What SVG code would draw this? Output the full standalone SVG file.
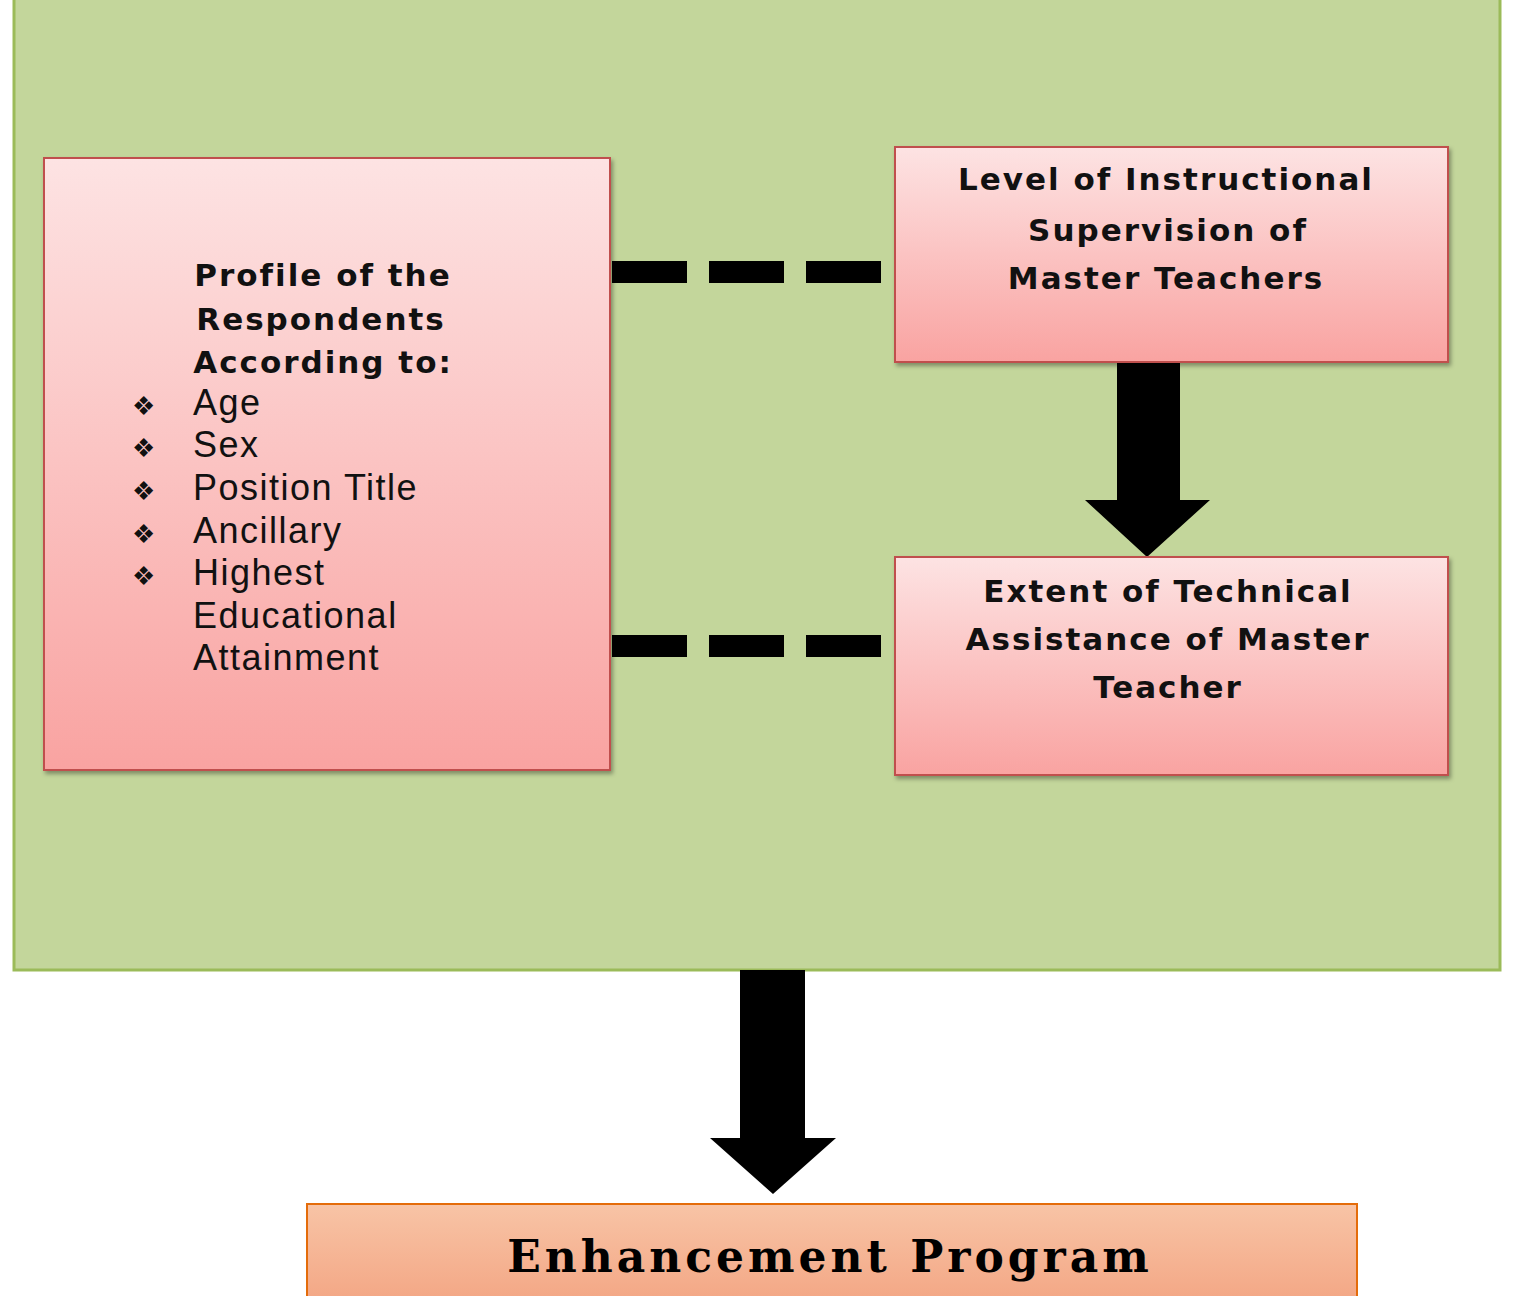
<svg xmlns="http://www.w3.org/2000/svg" width="1527" height="1296" viewBox="0 0 1527 1296">
<defs>
<linearGradient id="pink" x1="0" y1="0" x2="0" y2="1"><stop offset="0" stop-color="#fde3e3"/><stop offset="1" stop-color="#f9a3a1"/></linearGradient>
<linearGradient id="orange" x1="0" y1="0" x2="0" y2="1"><stop offset="0" stop-color="#f8c4a6"/><stop offset="1" stop-color="#f3a684"/></linearGradient>
<filter id="sh" x="-5%" y="-5%" width="110%" height="110%"><feDropShadow dx="2" dy="3" stdDeviation="2" flood-color="#000" flood-opacity="0.35"/></filter>
</defs>
<style>
.box{fill:url(#pink);stroke:#c0504d;stroke-width:2;filter:url(#sh)}
.h{font-family:"DejaVu Sans",sans-serif;font-weight:bold;font-size:31px;fill:#111;text-anchor:middle;letter-spacing:2px}
.li{font-family:"Liberation Sans",sans-serif;font-size:36px;fill:#111;letter-spacing:1.5px}
.dash{stroke:#000;stroke-width:22;stroke-dasharray:75,22}
</style>
<rect x="14" y="-5" width="1486" height="975" fill="#c3d69b" stroke="#9bbb59" stroke-width="3"/>
<g id="connectors">
<line class="dash" x1="612" y1="272" x2="893" y2="272"/>
<line class="dash" x1="612" y1="646" x2="893" y2="646"/>
<polygon points="1117,362 1180,362 1180,500 1210,500 1147,557 1085,500 1117,500" fill="#000"/>
<polygon points="740,970 805,970 805,1138 836,1138 773,1194 710,1138 740,1138" fill="#000"/>
</g>
<g id="profile">
<rect class="box" x="44" y="158" width="566" height="612"/>
<text class="h" x="323" y="286">Profile of the</text>
<text class="h" x="321" y="330">Respondents</text>
<text class="h" x="323" y="373">According to:</text>
<g class="li">
<text x="132" y="415" font-size="26">❖</text><text x="193" y="415">Age</text>
<text x="132" y="457" font-size="26">❖</text><text x="193" y="457">Sex</text>
<text x="132" y="500" font-size="26">❖</text><text x="193" y="500">Position Title</text>
<text x="132" y="543" font-size="26">❖</text><text x="193" y="543">Ancillary</text>
<text x="132" y="585" font-size="26">❖</text><text x="193" y="585">Highest</text>
<text x="193" y="628">Educational</text>
<text x="193" y="670">Attainment</text>
</g>
</g>
<g id="level">
<rect class="box" x="895" y="147" width="553" height="215"/>
<text class="h" x="1166" y="190">Level of Instructional</text>
<text class="h" x="1168" y="241">Supervision of</text>
<text class="h" x="1166" y="289">Master Teachers</text>
</g>
<g id="extent">
<rect class="box" x="895" y="557" width="553" height="218"/>
<text class="h" x="1168" y="602">Extent of Technical</text>
<text class="h" x="1168" y="650">Assistance of Master</text>
<text class="h" x="1168" y="698">Teacher</text>
</g>
<g id="enhancement">
<rect x="307" y="1204" width="1050" height="100" fill="url(#orange)" stroke="#e46c0a" stroke-width="2"/>
<text x="830" y="1272" font-family="'DejaVu Serif',serif" font-weight="bold" font-size="44" letter-spacing="4" text-anchor="middle" fill="#000">Enhancement Program</text>
</g>
</svg>
